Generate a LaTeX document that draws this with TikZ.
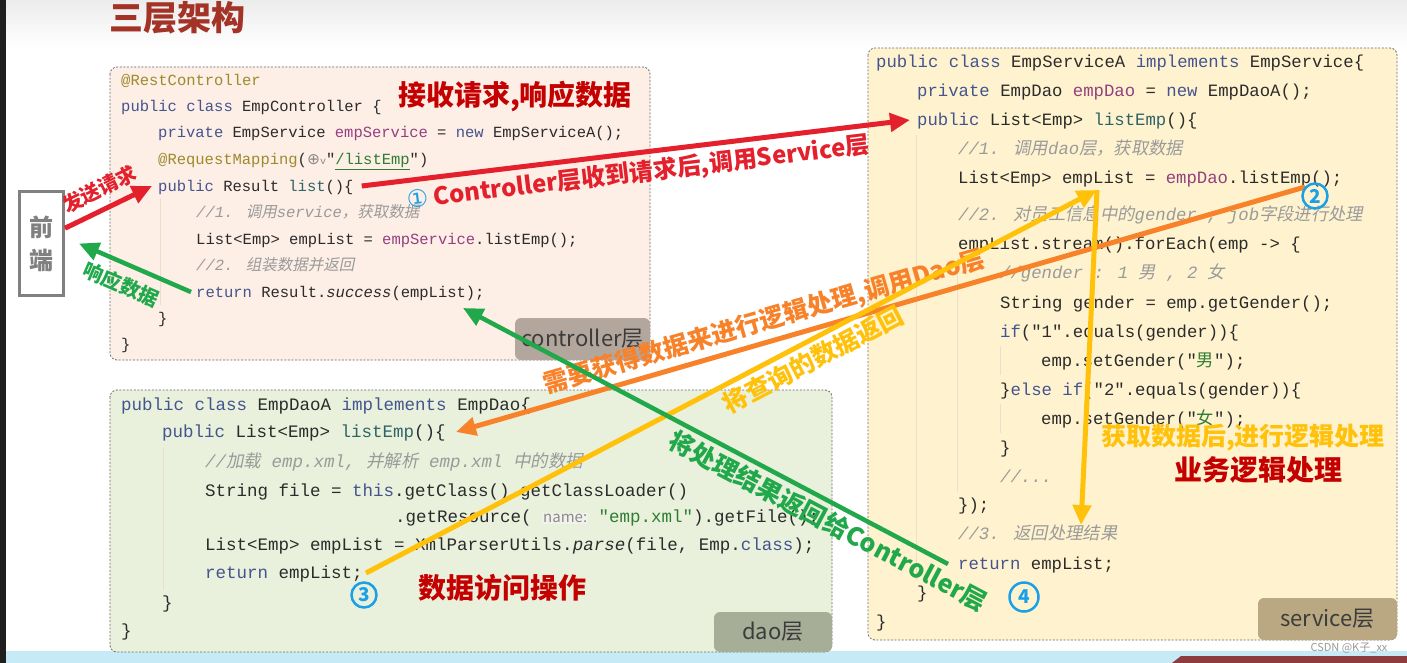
\documentclass[tikz,border=0pt]{standalone}
\usepackage{fontspec}
\setmainfont{Liberation Sans}
\newfontfamily\codefont{Liberation Mono}
\newfontfamily\cjk{Noto Sans CJK SC}[AutoFakeSlant=0.2]
\newfontfamily\dejavu{DejaVu Sans}
\usetikzlibrary{arrows.meta,positioning}

\definecolor{kwblue}{HTML}{44548F}
\definecolor{codedark}{HTML}{2B2B2B}
\definecolor{fldpurple}{HTML}{93407F}
\definecolor{annolive}{HTML}{9E8A2D}
\definecolor{cmgray}{HTML}{9A9A9A}
\definecolor{strgreen}{HTML}{2E7D32}
\definecolor{mthteal}{HTML}{2F6466}
\definecolor{hintgray}{HTML}{8A8A8A}
\definecolor{hintbg}{HTML}{F2F2EC}
\definecolor{redc}{HTML}{E3202B}
\definecolor{grnc}{HTML}{21A84A}
\definecolor{orgc}{HTML}{F8822A}
\definecolor{yelc}{HTML}{FFC10A}
\definecolor{numblue}{HTML}{1AA0E6}
\definecolor{handred}{HTML}{C40000}
\definecolor{titlered}{HTML}{A33327}
\definecolor{boxgray}{HTML}{6A6A6A}
\definecolor{ctlfill}{HTML}{FDEEE6}
\definecolor{srvfill}{HTML}{FFF3CF}
\definecolor{daofill}{HTML}{E9F1DC}
\definecolor{ctltag}{HTML}{B3A69C}
\definecolor{srvtag}{HTML}{B9A882}
\definecolor{daotag}{HTML}{A6AE97}
\definecolor{tagtext}{HTML}{3C3C3C}
\definecolor{fegray}{HTML}{808080}
\definecolor{guidec}{HTML}{E9DFCB}
\definecolor{topgray}{HTML}{ECECEC}
\definecolor{stripblue}{HTML}{C6EAF6}
\definecolor{barred}{HTML}{8F3C3F}
\definecolor{wmgray}{HTML}{9A9A9A}

% code colouring
\newcommand{\kw}[1]{\textcolor{kwblue}{#1}}
\newcommand{\fld}[1]{\textcolor{fldpurple}{#1}}
\newcommand{\ann}[1]{\textcolor{annolive}{#1}}
\newcommand{\cmt}[1]{\textcolor{cmgray}{\itshape #1}}
\newcommand{\strg}[1]{\textcolor{strgreen}{#1}}
\newcommand{\mth}[1]{\textcolor{mthteal}{#1}}
\newcommand{\zh}[1]{{\cjk #1}}
\newcommand{\hint}[1]{{\setlength{\fboxsep}{1pt}\colorbox{hintbg}{\cjk\fontsize{15}{15}\selectfont\textcolor{hintgray}{#1}}}}

\begin{document}
\begin{tikzpicture}[x=1pt,y=-1pt,>={Triangle[length=20pt,width=18pt]},
 code/.style={anchor=west,inner sep=0pt,text height=15pt,text depth=4pt,text=codedark},
 ctl/.style={code,font=\codefont\fontsize{15.5}{18}\selectfont},
 srv/.style={code,font=\codefont\fontsize{17.3}{20}\selectfont},
 dao/.style={code,font=\codefont\fontsize{17.5}{20}\selectfont},
 layer/.style={draw=boxgray,line width=0.8pt,dash pattern=on 2pt off 1.6pt,rounded corners=7pt},
 tag/.style={rounded corners=6pt,inner sep=0pt,text=tagtext,font=\cjk\fontsize{22}{22}\selectfont},
 num/.style={circle,draw=numblue,line width=2.5pt,text=numblue,inner sep=0pt,minimum size=25pt,font=\cjk\bfseries\fontsize{19}{19}\selectfont},
 arr/.style={->,line width=5pt},
 lbl/.style={inner sep=2pt,font=\cjk\bfseries\fontsize{25}{25}\selectfont},
 hand/.style={inner sep=0pt,text=handred,font=\cjk\bfseries\fontsize{28}{28}\selectfont},
 guide/.style={draw=guidec,line width=0.8pt}]

 \useasboundingbox (0,0) rectangle (1407,663);
 \fill[white] (0,0) rectangle (1407,663);
 \shade[top color=topgray,bottom color=white] (0,0) rectangle (1407,48);
 \fill[black!88] (0,0) rectangle (6,663);
 \fill[stripblue] (6,651) rectangle (1407,663);
 \fill[barred] (1172,663) -- (1181,656) -- (1407,656) -- (1407,663) -- cycle;

 \node[inner sep=0pt,text=titlered,font=\cjk\bfseries\fontsize{34}{34}\selectfont] (title) at (177,18) {三层架构};

 % layers
 \draw[layer,fill=ctlfill] (110,67) rectangle (650,360);
 \draw[layer,fill=srvfill] (868,48) rectangle (1397,640);
 \draw[layer,fill=daofill] (110,390) rectangle (832,652);

 \draw[guide] (160,198) -- (160,305);
 \draw[guide] (916,135) -- (916,580);
 \draw[guide] (957,258) -- (957,492);
 \draw[guide] (1000,346) -- (1000,375);
 \draw[guide] (1000,404) -- (1000,433);
 \draw[guide] (163,448) -- (163,590);

 % controller
 \node[ctl] (c1) at (121,80) {\ann{@RestController}};
 \node[ctl] (c2) at (121,106) {\kw{public class} EmpController \{};
 \node[ctl] (c3) at (158,132) {\kw{private} EmpService \fld{empService} = \kw{new} EmpServiceA();};
 \node[ctl] (c4) at (158,159) {\ann{@RequestMapping}({\dejavu\textcolor{hintgray}{⊕}}{\fontsize{10}{10}\selectfont\textcolor{hintgray}{v}}"\strg{\underline{/listEmp}}")};
 \node[ctl] (c5) at (158,186) {\kw{public} Result \mth{list}()\{};
 \node[ctl] (c6) at (196,212) {\cmt{//1. \zh{调用}service\zh{，获取数据}}};
 \node[ctl] (c7) at (196,239) {List<Emp> empList = \fld{empService}.listEmp();};
 \node[ctl] (c8) at (196,265) {\cmt{//2. \zh{组装数据并返回}}};
 \node[ctl] (c9) at (196,292) {\kw{return} Result.{\itshape success}(empList);};
 \node[ctl] (c10) at (158,318) {\}};
 \node[ctl] (c11) at (121,344) {\}};

 % service
 \node[srv] (s1) at (876,62) {\kw{public class} EmpServiceA \kw{implements} EmpService\{};
 \node[srv] (s2) at (917,91) {\kw{private} EmpDao \fld{empDao} = \kw{new} EmpDaoA();};
 \node[srv] (s3) at (917,120) {\kw{public} List<Emp> \mth{listEmp}()\{};
 \node[srv] (s4) at (958,149) {\cmt{//1. \zh{调用}dao\zh{层，获取数据}}};
 \node[srv] (s5) at (958,178) {List<Emp> empList = \fld{empDao}.listEmp();};
 \node[srv] (s6) at (958,215) {\cmt{//2. \zh{对员工信息中的}gender , job\zh{字段进行处理}}};
 \node[srv] (s7) at (958,244) {empList.stream().forEach(emp -> \{};
 \node[srv] (s8) at (1000,273) {\cmt{//gender : 1 \zh{男} , 2 \zh{女}}};
 \node[srv] (s9) at (1000,303) {String gender = emp.getGender();};
 \node[srv] (s10) at (1000,332) {\kw{if}("1".equals(gender))\{};
 \node[srv] (s11) at (1041,361) {emp.setGender("\strg{\zh{男}}");};
 \node[srv] (s12) at (1000,390) {\}\kw{else if}("2".equals(gender))\{};
 \node[srv] (s13) at (1041,419) {emp.setGender("\strg{\zh{女}}");};
 \node[srv] (s14) at (1000,448) {\}};
 \node[srv] (s15) at (1000,477) {\cmt{//...}};
 \node[srv] (s16) at (958,505) {\});};
 \node[srv] (s17) at (958,534) {\cmt{//3. \zh{返回处理结果}}};
 \node[srv] (s18) at (958,564) {\kw{return} empList;};
 \node[srv] (s19) at (917,593) {\}};
 \node[srv] (s20) at (876,622) {\}};

 % dao
 \node[dao] (d1) at (121,405) {\kw{public class} EmpDaoA \kw{implements} EmpDao\{};
 \node[dao] (d2) at (162,432) {\kw{public} List<Emp> \mth{listEmp}()\{};
 \node[dao] (d3) at (205,462) {\cmt{//\zh{加载} emp.xml, \zh{并解析} emp.xml \zh{中的数据}}};
 \node[dao] (d4) at (205,491) {String file = \kw{this}.getClass().getClassLoader()};
 \node[dao] (d5) at (395,517) {.getResource( \hint{name:} \strg{"emp.xml"}).getFile();};
 \node[dao] (d6) at (205,545) {List<Emp> empList = XmlParserUtils.{\itshape parse}(file, Emp.\kw{class});};
 \node[dao] (d7) at (205,573) {\kw{return} empList;};
 \node[dao] (d8) at (162,603) {\}};
 \node[dao] (d9) at (121,631) {\}};

 % layer tags
 \node[tag,fill=ctltag,minimum width=135pt,minimum height=42pt] (ctlTag) at (582.5,339) {controller层};
 \node[tag,fill=srvtag,minimum width=139pt,minimum height=42pt] (srvTag) at (1327.5,619) {service层};
 \node[tag,fill=daotag,minimum width=118pt,minimum height=40pt] (daoTag) at (773,632) {dao层};

 \node[draw=fegray,line width=3pt,fill=white,minimum width=44pt,minimum height=104pt,inner sep=0pt,align=center,text=fegray,font=\cjk\bfseries\fontsize{24}{33}\selectfont] (qd) at (41.5,243.5) {前\\端};

 \coordinate (srvCall) at (1305,187);
 \coordinate (srvList) at (1097,190);
 \coordinate (srvRes) at (1081,525);
 \coordinate (ctlRet) at (463,308);

 \draw[arr,draw=redc] (qd.33) -- node[lbl,sloped,above=6pt,pos=0.5,text=redc,font=\cjk\bfseries\fontsize{20}{20}\selectfont] (lblSend) {发送请求} ([xshift=-6pt]c5.west);
 \draw[arr,draw=grnc,line width=4.5pt] ([xshift=-5pt]c9.west) -- node[lbl,sloped,below=7pt,pos=0.55,text=grnc,font=\cjk\bfseries\fontsize{20}{20}\selectfont] (lblResp) {响应数据} ([xshift=14pt]qd.east);
 \draw[arr,draw=redc] ([xshift=8pt]c5.east) -- node[lbl,sloped,below=3pt,pos=0.5,text=redc,font=\cjk\bfseries\fontsize{24}{24}\selectfont] (lblCall) {{\dejavu\mdseries\textcolor{numblue}{①}} Controller层收到请求后,调用Service层} ([xshift=-7pt]s3.west);
 \draw[arr,draw=orgc] (srvCall) -- node[lbl,sloped,above=2pt,pos=0.63,text=orgc] (lblDao) {需要获得数据来进行逻辑处理,调用Dao层} ([xshift=10pt]d2.east);
 \draw[arr,draw=yelc] ([xshift=3pt]d7.east) -- node[lbl,sloped,below=2pt,pos=0.6,text=yelc] (lblBack) {将查询的数据返回} (srvList);
 \draw[arr,draw=yelc] (srvList) -- (srvRes);
 \draw[arr,draw=grnc,line width=4.5pt] ([xshift=-10pt]s18.west) -- node[lbl,sloped,below=2pt,pos=0.23,text=grnc] (lblRet) {将处理结果返回给Controller层} (ctlRet);

 \node[lbl,text=yelc] (lblLogic) at (1243,438) {获取数据后,进行逻辑处理};

 \node[hand] (hCtl) at (515,97) {接收请求,响应数据};
 \node[hand] (hSrv) at (1258,470) {业务逻辑处理};
 \node[hand] (hDao) at (502,588) {数据访问操作};

 \node[num] (n2) at (1315,196) {2};
 \node[num] (n3) at (364,595) {3};
 \node[num,minimum size=29pt] (n4) at (1024,597) {4};

 \node[inner sep=0pt,text=wmgray,font=\cjk\fontsize{11}{11}\selectfont] (wm) at (1349,648) {CSDN @K子\_xx};
\end{tikzpicture}
\end{document}
